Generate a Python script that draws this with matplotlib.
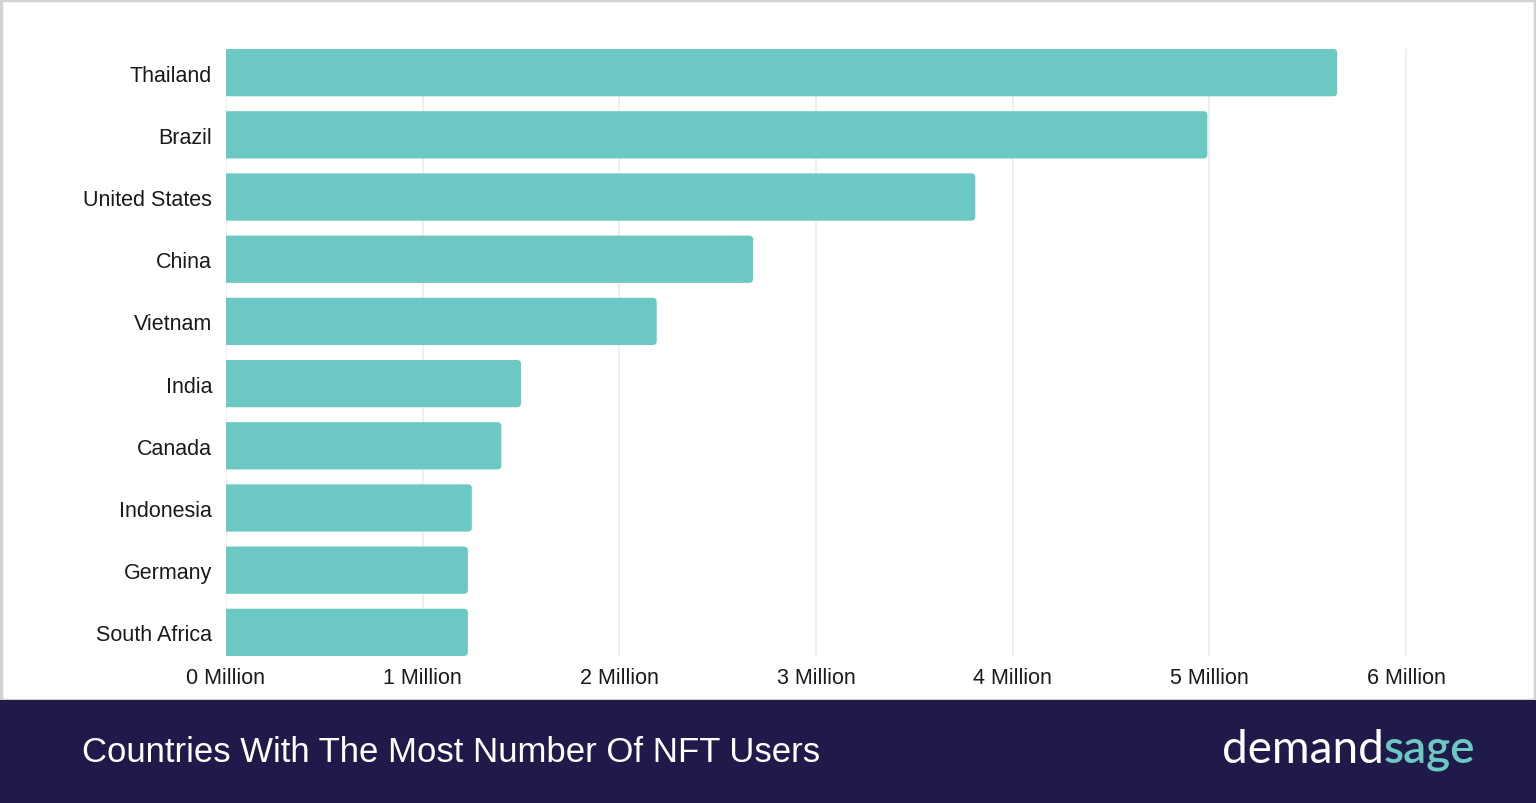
import matplotlib
matplotlib.use("Agg")
import matplotlib.pyplot as plt
from matplotlib.patches import FancyBboxPatch, Rectangle

countries = ["Thailand", "Brazil", "United States", "China", "Vietnam",
             "India", "Canada", "Indonesia", "Germany", "South Africa"]
users_million = [5.65, 4.99, 3.81, 2.68, 2.19, 1.50, 1.40, 1.25, 1.23, 1.23]
tick_values = [0, 1, 2, 3, 4, 5, 6]
tick_labels = [f"{v} Million" for v in tick_values]
title = "Countries With The Most Number Of NFT Users"

BAR = "#6cc8c2"
NAVY = "#1f1a4a"
W, H = 1536, 804

plt.rcParams["font.family"] = ["Liberation Sans", "DejaVu Sans"]
fig = plt.figure(figsize=(W / 100, H / 100), dpi=100)
fig.patch.set_facecolor("white")

# axes placed in pixel terms: x0 at 226, 6M at 1406; top 50, bottom 657
xmax = 6.3
px_per_unit = (1406 - 226) / 6
ax_w = xmax * px_per_unit
ax = fig.add_axes([226 / W, (H - 657) / H, ax_w / W, (657 - 50) / H])

n = len(countries)
bar_h = 0.76
ylo, yhi = -bar_h / 2, n - 1 + bar_h / 2
ax.set_xlim(0, xmax)
ax.set_ylim(yhi, ylo)

# rounded bars; aspect fixes corner radius so it looks round in pixels
y_px_per_unit = (657 - 50) / (yhi - ylo)
r = 4 / px_per_unit
aspect = px_per_unit / y_px_per_unit
for i, v in enumerate(users_million):
    p = FancyBboxPatch((-r, i - bar_h / 2), v + r, bar_h,
                       boxstyle=f"round,pad=0,rounding_size={r}",
                       mutation_aspect=aspect, facecolor=BAR,
                       edgecolor="none", zorder=3)
    ax.add_patch(p)

ax.set_yticks(range(n))
ax.set_yticklabels(countries, fontsize=15.5, color="#1a1a1a")
ax.set_xticks(tick_values)
ax.set_xticklabels(tick_labels, fontsize=15.5, color="#1a1a1a")
ax.tick_params(axis="y", length=0, pad=10)
ax.tick_params(axis="x", length=0, pad=8)
ax.grid(axis="x", color="#ececec", linewidth=1.2, zorder=0)
for s in ax.spines.values():
    s.set_visible(False)

# light grey frame and navy footer
fig.patches.append(Rectangle((1 / W, (H - 701) / H), 1 - 2 / W,
                             700 / H, transform=fig.transFigure,
                             facecolor="none", edgecolor="#d2d2d2",
                             linewidth=2.5, zorder=0))
fig.patches.append(Rectangle((0, 0), 1, (H - 701) / H,
                             transform=fig.transFigure, facecolor=NAVY,
                             edgecolor="none", zorder=1))

fig.text(82 / W, (H - 753) / H, title, color="white", fontsize=25,
         va="center", ha="left")
t1 = fig.text(1222 / W, (H - 750) / H, "demand", color="white",
              fontsize=33, va="center", ha="left", family="Lato")
fig.canvas.draw()
bb = t1.get_window_extent()
fig.text(bb.x1 / W, (H - 750) / H, "sage", color=BAR, fontsize=33,
         va="center", ha="left", family="Lato", fontweight="semibold")

fig.savefig("out.png", dpi=100)
